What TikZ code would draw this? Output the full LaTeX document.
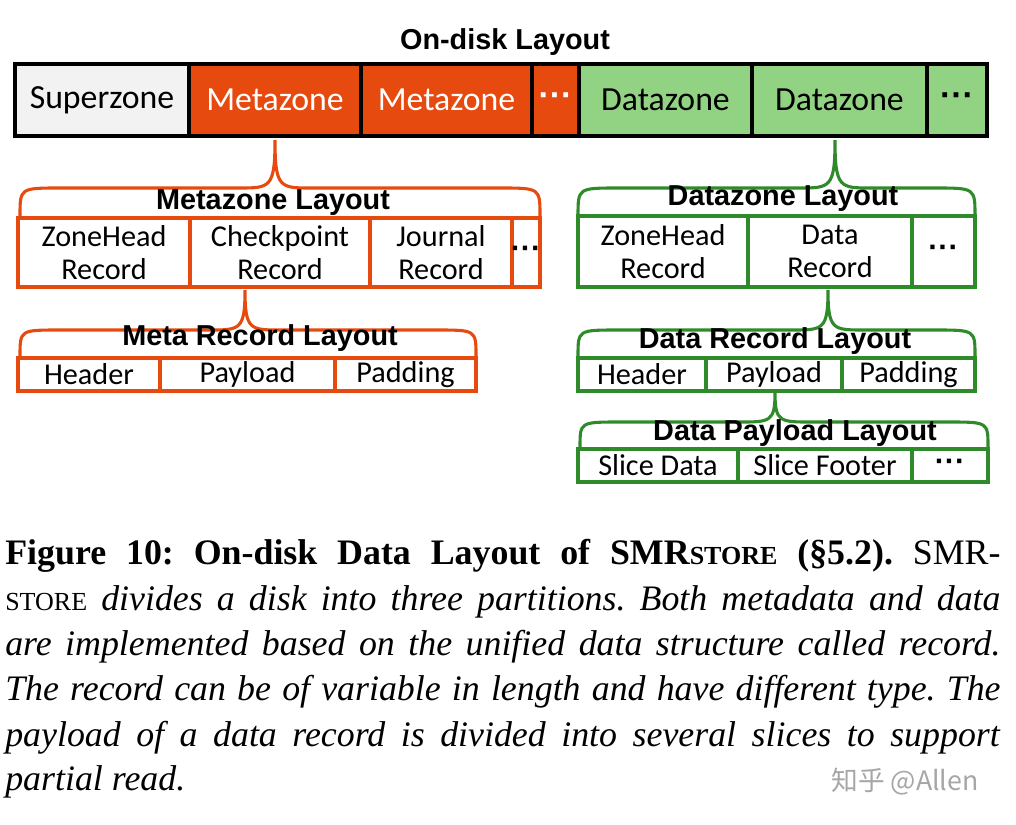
\documentclass[tikz,border=0pt]{standalone}
\usepackage{fontspec}
\setmainfont{Liberation Serif}
\newfontfamily\carf{Carlito}
\newfontfamily\ars{Liberation Sans}
\newfontfamily\cjk{Noto Sans CJK SC}
\definecolor{orz}{HTML}{E64A0E}
\definecolor{grn}{HTML}{92D283}
\definecolor{dgr}{HTML}{2F8A2A}
\newcommand\smr{SMR{\fontsize{18.5}{20}\selectfont STORE}}
\newcommand\dts{\textbf{\ars ···}}
\newcommand\cellbox[7]{\path[#6] (#2,#4) rectangle (#3,#5) node[midway,align=center] (#1) {#7};}
\newcommand\brc[7]{\draw[#7] (#1,#6) .. controls (#1,#5) and (#1,#5) .. ({#1+40},#5) -- ({#3-36},#5) .. controls ({#3-5},#5) and (#3,#5) .. (#3,#4) .. controls (#3,#5) and ({#3+5},#5) .. ({#3+36},#5) -- ({#2-40},#5) .. controls (#2,#5) and (#2,#5) .. (#2,#6);}
\begin{document}
\frenchspacing
\begin{tikzpicture}[x=0.025cm,y=-0.025cm,
 big/.style={font=\carf\fontsize{24}{26}\selectfont},
 sm/.style={font=\carf\fontsize{21.5}{24}\selectfont},
 ttl/.style={font=\ars\bfseries\fontsize{20.5}{22}\selectfont},
 oc/.style={draw=orz,line width=2.2pt,fill=white,sm},
 gc/.style={draw=dgr,line width=2.2pt,fill=white,sm},
 ob/.style={draw=orz,line width=2.2pt},
 gb/.style={draw=dgr,line width=2.2pt}]
\useasboundingbox (0,0) rectangle (1016,824);
\node[ttl] (t0) at (505,42) {On-disk Layout};
% top bar
\fill[black] (13,62) rectangle (989,138);
\cellbox{s1}{17}{187}{66}{134}{fill=black!5,big}{Superzone}
\cellbox{m1}{191}{359}{66}{134}{fill=orz,big,text=white}{Metazone}
\cellbox{m2}{363}{530}{66}{134}{fill=orz,big,text=white}{Metazone}
\cellbox{m3}{534}{577}{66}{134}{fill=orz,big,text=white}{\dts}
\cellbox{d1}{581}{750}{66}{134}{fill=grn,big}{Datazone}
\cellbox{d2}{754}{925}{66}{134}{fill=grn,big}{Datazone}
\cellbox{d3}{929}{985}{66}{134}{fill=grn,big}{\dts}
% metazone layout
\brc{20}{540}{275}{140}{188}{216}{ob}
\node[ttl] (t1) at (273,203) {Metazone Layout};
\cellbox{a1}{18}{190}{218}{287}{oc}{ZoneHead\\Record}
\cellbox{a2}{190}{370}{218}{287}{oc}{Checkpoint\\Record}
\cellbox{a3}{370}{512}{218}{287}{oc}{Journal\\Record}
\cellbox{a4}{512}{540}{218}{287}{oc}{\dts}
\brc{20}{476}{245}{290}{330}{356}{ob}
\node[ttl] (t2) at (260,338) {Meta Record Layout};
\cellbox{b1}{18}{160}{358}{391}{oc}{Header}
\cellbox{b2}{160}{335}{358}{391}{oc}{Payload}
\cellbox{b3}{335}{476}{358}{391}{oc}{Padding}
% datazone layout
\brc{578}{975}{835}{140}{188}{216}{gb}
\node[ttl] (t3) at (783,199) {Datazone Layout};
\cellbox{c1}{578}{748}{216}{287}{gc}{ZoneHead\\Record}
\cellbox{c2}{748}{912}{216}{287}{gc}{Data\\Record}
\cellbox{c3}{912}{975}{216}{287}{gc}{\dts}
\brc{578}{975}{828}{290}{330}{356}{gb}
\node[ttl] (t4) at (775,341) {Data Record Layout};
\cellbox{e1}{578}{706}{358}{391}{gc}{Header}
\cellbox{e2}{706}{842}{358}{391}{gc}{Payload}
\cellbox{e3}{842}{975}{358}{391}{gc}{Padding}
\brc{580}{988}{775}{393}{422}{447}{gb}
\node[ttl] (t5) at (795,433) {Data Payload Layout};
\cellbox{f1}{578}{738}{449}{482}{gc}{Slice Data}
\cellbox{f2}{738}{912}{449}{482}{gc}{Slice Footer}
\cellbox{f3}{912}{988}{449}{482}{gc}{\dts}
% caption
\begin{scope}[every node/.style={anchor=west,inner sep=0pt,font=\fontsize{25.5}{28}\selectfont}]
\node (l1) at (5,556) {\makebox[24.875cm][s]{\textbf{Figure 10: On-disk Data Layout of \smr\ (\S5.2).} SMR-}};
\node (l2) at (5,602) {\makebox[24.875cm][s]{{\fontsize{18.5}{20}\selectfont STORE} \textit{divides a disk into three partitions. Both metadata and data}}};
\node (l3) at (5,647) {\makebox[24.875cm][s]{\textit{are implemented based on the unified data structure called record.}}};
\node (l4) at (5,692) {\makebox[24.875cm][s]{\textit{The record can be of variable in length and have different type. The}}};
\node (l5) at (5,738) {\makebox[24.875cm][s]{\textit{payload of a data record is divided into several slices to support}}};
\node (l6) at (5,782) {\textit{partial read.}};
\end{scope}
\node[font=\cjk\fontsize{19}{22}\selectfont,text=black!35] (wm) at (905,782) {知乎 @Allen};
\end{tikzpicture}
\end{document}
